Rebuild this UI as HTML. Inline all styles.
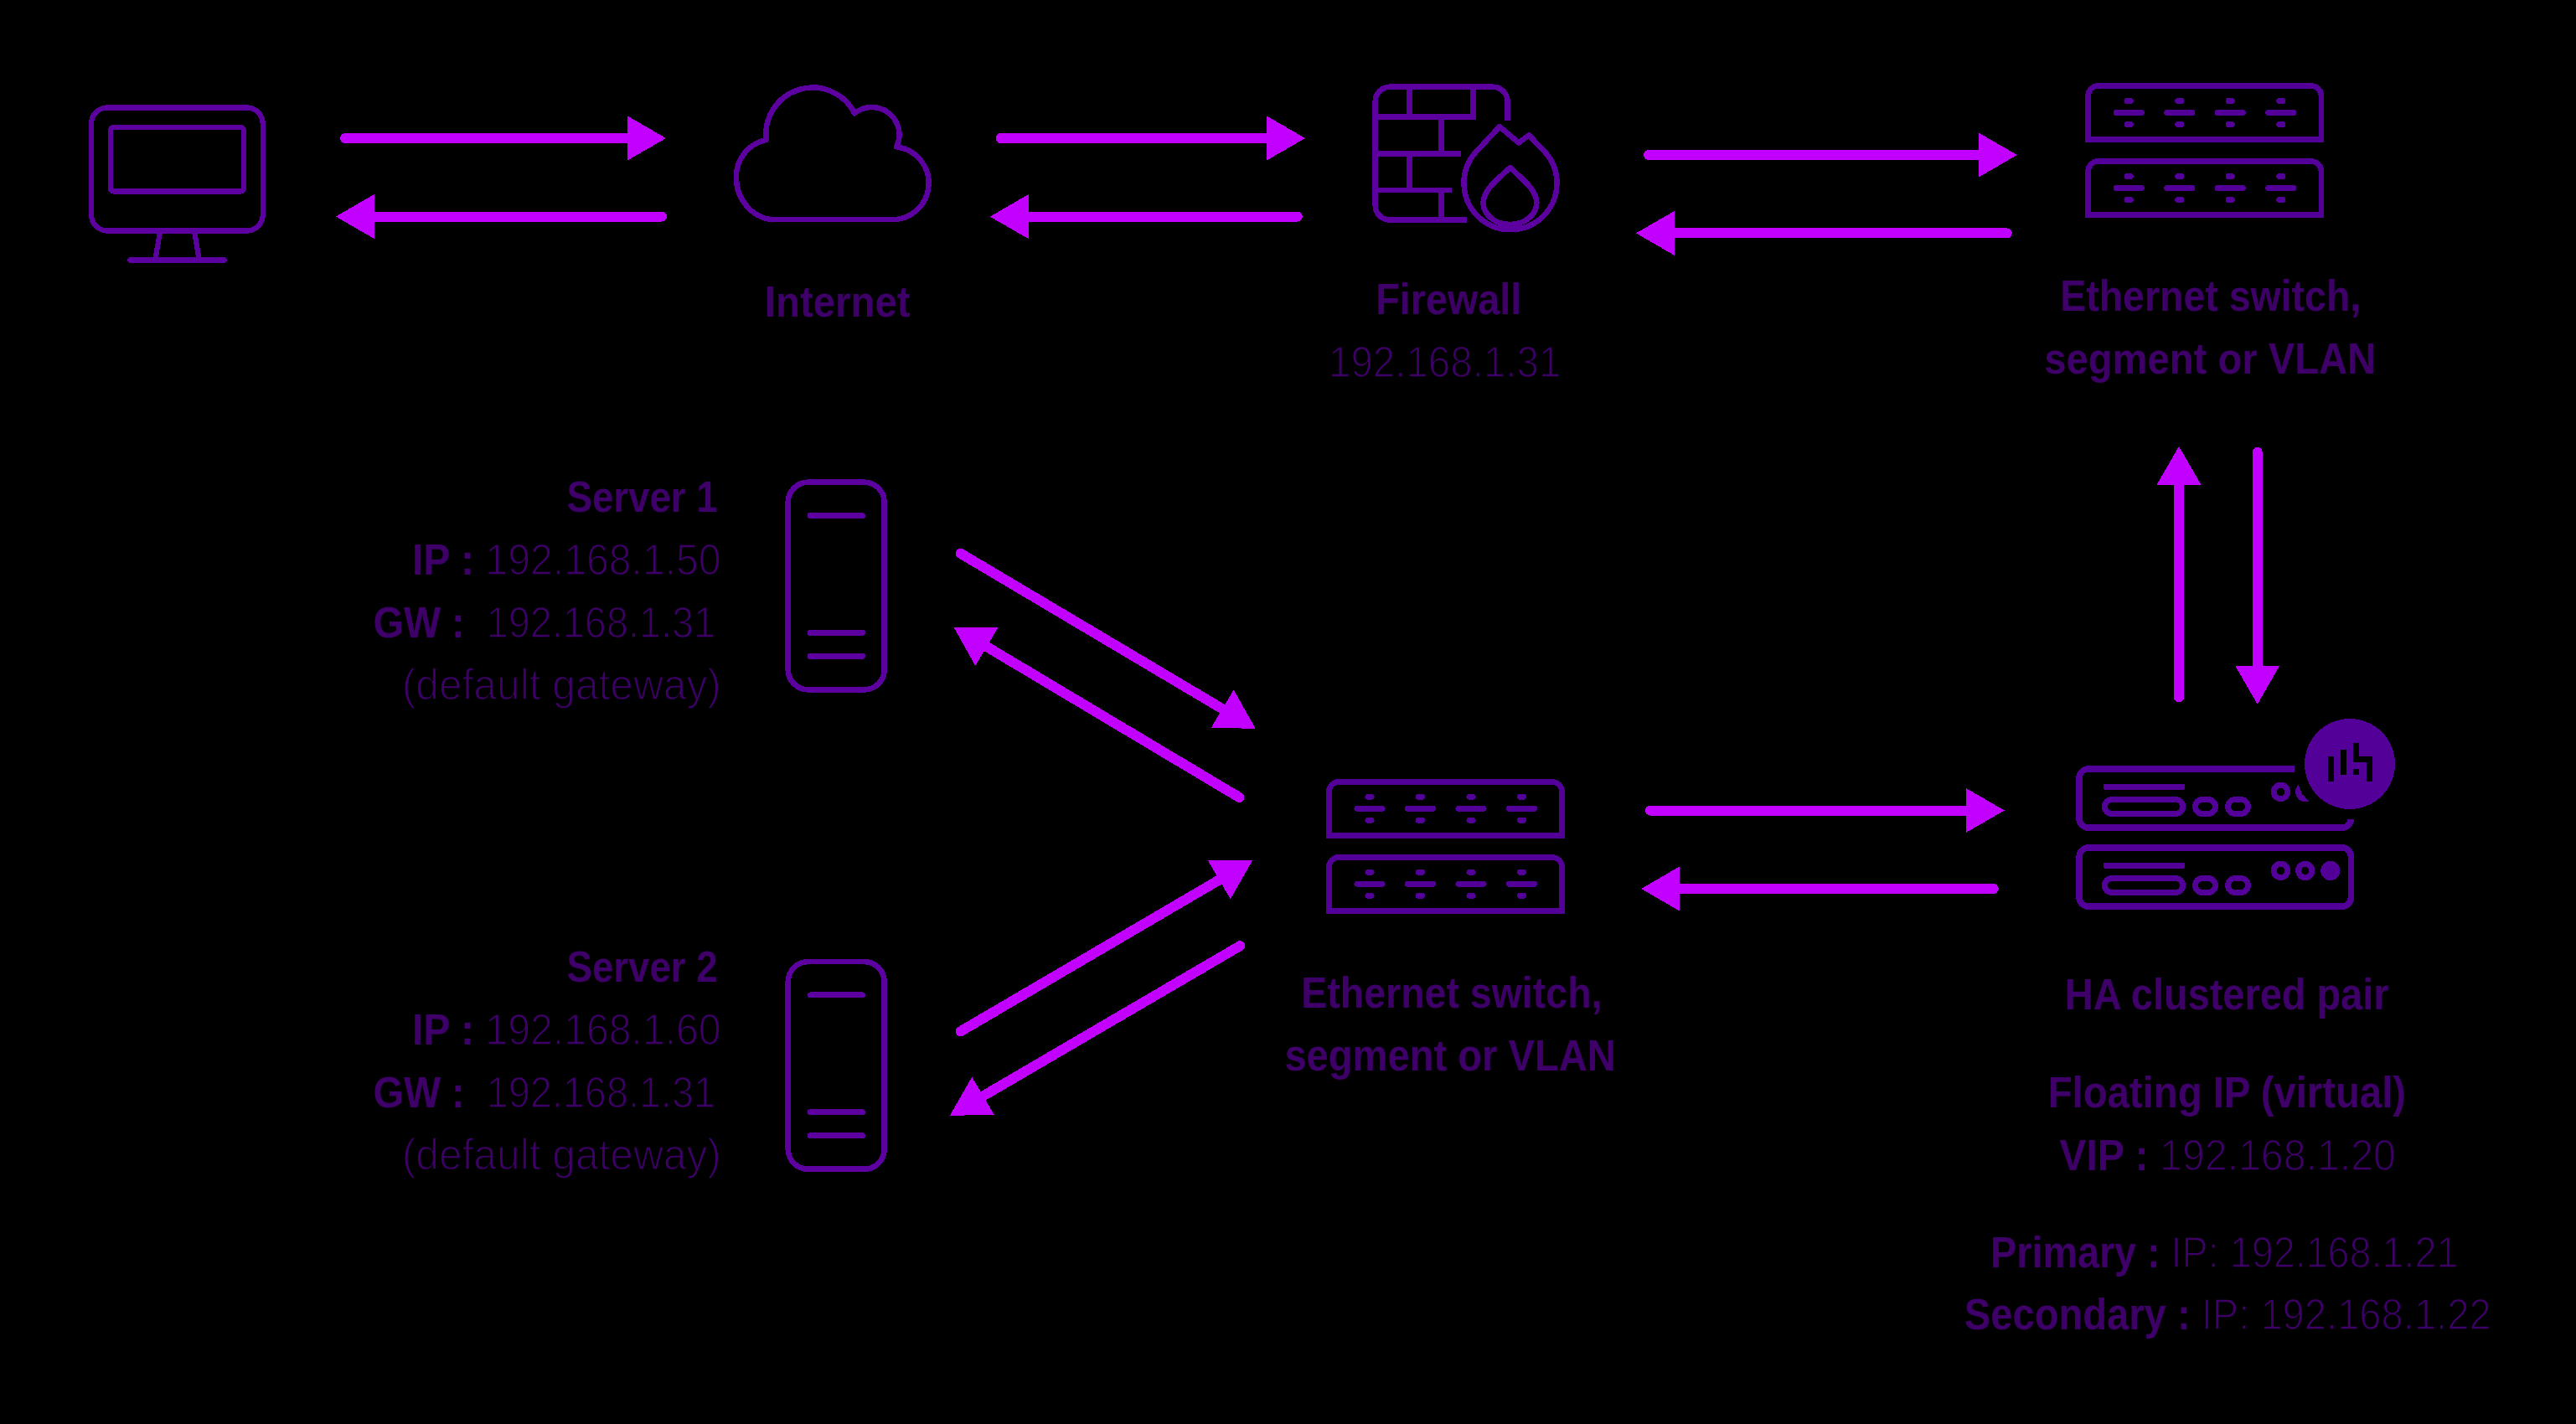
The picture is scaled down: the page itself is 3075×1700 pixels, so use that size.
<!DOCTYPE html>
<html><head><meta charset="utf-8"><style>
html,body{margin:0;padding:0;background:#000;width:3075px;height:1700px;overflow:hidden}
svg{display:block} .cr *{shape-rendering:crispEdges}
</style></head><body>
<svg width="3075" height="1700" viewBox="0 0 3075 1700">
<rect width="3075" height="1700" fill="#000"/>
<g class="cr"><line x1="412.0" y1="165.0" x2="751.1" y2="165.0" stroke="#c200ff" stroke-width="12" stroke-linecap="round"/>
<polygon points="795.0,165.0 749.1,191.5 749.1,138.5" fill="#c200ff"/>
<line x1="790.0" y1="258.5" x2="444.7" y2="258.5" stroke="#c200ff" stroke-width="12" stroke-linecap="round"/>
<polygon points="400.8,258.5 446.7,232.0 446.7,285.0" fill="#c200ff"/>
<line x1="1194.8" y1="165.0" x2="1514.1" y2="165.0" stroke="#c200ff" stroke-width="12" stroke-linecap="round"/>
<polygon points="1558.0,165.0 1512.1,191.5 1512.1,138.5" fill="#c200ff"/>
<line x1="1548.8" y1="258.6" x2="1225.6" y2="258.6" stroke="#c200ff" stroke-width="12" stroke-linecap="round"/>
<polygon points="1181.7,258.6 1227.6,232.1 1227.6,285.1" fill="#c200ff"/>
<line x1="1968.0" y1="185.0" x2="2364.0" y2="185.0" stroke="#c200ff" stroke-width="12" stroke-linecap="round"/>
<polygon points="2407.9,185.0 2362.0,211.5 2362.0,158.5" fill="#c200ff"/>
<line x1="2395.7" y1="278.4" x2="1996.8" y2="278.4" stroke="#c200ff" stroke-width="12" stroke-linecap="round"/>
<polygon points="1952.9,278.4 1998.8,251.9 1998.8,304.9" fill="#c200ff"/>
<line x1="1969.9" y1="967.5" x2="2348.9" y2="967.5" stroke="#c200ff" stroke-width="12" stroke-linecap="round"/>
<polygon points="2392.8,967.5 2346.9,994.0 2346.9,941.0" fill="#c200ff"/>
<line x1="2379.7" y1="1061.0" x2="2002.9" y2="1061.0" stroke="#c200ff" stroke-width="12" stroke-linecap="round"/>
<polygon points="1959.0,1061.0 2004.9,1034.5 2004.9,1087.5" fill="#c200ff"/>
<line x1="2601.0" y1="832.3" x2="2601.0" y2="576.8" stroke="#c200ff" stroke-width="12" stroke-linecap="round"/>
<polygon points="2601.0,532.9 2627.5,578.8 2574.5,578.8" fill="#c200ff"/>
<line x1="2694.7" y1="539.9" x2="2694.7" y2="796.8" stroke="#c200ff" stroke-width="12" stroke-linecap="round"/>
<polygon points="2694.7,840.7 2668.2,794.8 2721.2,794.8" fill="#c200ff"/>
<line x1="1146.6" y1="660.7" x2="1460.9" y2="847.3" stroke="#c200ff" stroke-width="12" stroke-linecap="round"/>
<polygon points="1498.6,869.7 1445.6,869.1 1472.7,823.5" fill="#c200ff"/>
<line x1="1479.4" y1="952.0" x2="1176.1" y2="771.0" stroke="#c200ff" stroke-width="12" stroke-linecap="round"/>
<polygon points="1138.4,748.5 1191.4,749.3 1164.2,794.8" fill="#c200ff"/>
<line x1="1146.6" y1="1231.3" x2="1457.1" y2="1049.4" stroke="#c200ff" stroke-width="12" stroke-linecap="round"/>
<polygon points="1495.0,1027.2 1468.8,1073.3 1442.0,1027.5" fill="#c200ff"/>
<line x1="1480.2" y1="1129.2" x2="1171.9" y2="1309.4" stroke="#c200ff" stroke-width="12" stroke-linecap="round"/>
<polygon points="1134.0,1331.6 1160.2,1285.6 1187.0,1331.3" fill="#c200ff"/>
<g fill="none" stroke="#5c00a0" stroke-width="6.2">
<rect x="109.1" y="128.4" width="204.6" height="147.2" rx="19"/>
<rect x="132.3" y="152.3" width="158.3" height="76.1" rx="2.5"/>
<line x1="190.8" y1="278" x2="185.8" y2="307.5"/>
<line x1="232.4" y1="278" x2="237.2" y2="307.5"/>
<line x1="155.5" y1="310.6" x2="267.5" y2="310.6" stroke-width="6.6" stroke-linecap="round"/>
</g>
<path fill="none" stroke="#5c00a0" stroke-width="6.5" stroke-linejoin="round" d="M925 262.2 H1065.1 A43.6 43.6 0 0 0 1070.08 175.29 A32.8 32.8 0 0 0 1020.11 135.23 A55.9 55.9 0 0 0 914.68 166.93 A45 45 0 0 0 878.8 211 C878.8 239.2 899.6 262.2 925 262.2 Z"/>
<g fill="none" stroke="#5c00a0" stroke-width="6.6">
<path d="M1799.5 143.5 V121 A17.25 17.25 0 0 0 1782.25 103.75 H1659 A17.25 17.25 0 0 0 1641.7 121 V245.25 A17.25 17.25 0 0 0 1659 262.5 H1750.7"/>
<path d="M1641.7 139.5 H1761.6 M1641.7 183.5 H1744.4 M1641.7 227 H1733.4"/>
<path d="M1682.5 103.75 V139.5 M1758.2 103.75 V139.5 M1720.5 139.5 V183.5 M1682.5 183.5 V227 M1720.5 227 V262.5"/>
<path stroke-linejoin="round" d="M1790 151.2 L1812.9 170.5 L1825.1 161.4 L1843.22 180.46 A55.5 55.5 0 1 1 1762.37 180.89 Z"/>
<path stroke-linejoin="round" d="M1802.7 200.1 C1790 212 1770.6 226 1770.6 242 A31.85 26 0 0 0 1834.3 242 C1834.3 226 1815 212 1802.7 200.1 Z"/>
</g>
<path fill="none" stroke="#520098" stroke-width="6.7" d="M2492.65 166.45 V114.55 A12 12 0 0 1 2504.65 102.55 H2758.95 A12 12 0 0 1 2770.95 114.55 V166.45 Z"/>
<path stroke="#520098" stroke-width="6.7" stroke-linecap="round" d="M2526.1 134.5 H2556.5 M2539.1 120.5 H2543.5 M2539.1 148.5 H2543.5"/>
<path stroke="#520098" stroke-width="6.7" stroke-linecap="round" d="M2586.5 134.5 H2616.9 M2599.5 120.5 H2603.9 M2599.5 148.5 H2603.9"/>
<path stroke="#520098" stroke-width="6.7" stroke-linecap="round" d="M2647.1 134.5 H2677.5 M2660.1 120.5 H2664.5 M2660.1 148.5 H2664.5"/>
<path stroke="#520098" stroke-width="6.7" stroke-linecap="round" d="M2707.6 134.5 H2738.0 M2720.6 120.5 H2725.0 M2720.6 148.5 H2725.0"/>
<path fill="none" stroke="#520098" stroke-width="6.7" d="M2492.65 256.45 V204.55 A12 12 0 0 1 2504.65 192.55 H2758.95 A12 12 0 0 1 2770.95 204.55 V256.45 Z"/>
<path stroke="#520098" stroke-width="6.7" stroke-linecap="round" d="M2526.1 224.5 H2556.5 M2539.1 210.5 H2543.5 M2539.1 238.5 H2543.5"/>
<path stroke="#520098" stroke-width="6.7" stroke-linecap="round" d="M2586.5 224.5 H2616.9 M2599.5 210.5 H2603.9 M2599.5 238.5 H2603.9"/>
<path stroke="#520098" stroke-width="6.7" stroke-linecap="round" d="M2647.1 224.5 H2677.5 M2660.1 210.5 H2664.5 M2660.1 238.5 H2664.5"/>
<path stroke="#520098" stroke-width="6.7" stroke-linecap="round" d="M2707.6 224.5 H2738.0 M2720.6 210.5 H2725.0 M2720.6 238.5 H2725.0"/>
<path fill="none" stroke="#520098" stroke-width="6.7" d="M1586.35 997.25 V945.35 A12 12 0 0 1 1598.35 933.35 H1852.65 A12 12 0 0 1 1864.65 945.35 V997.25 Z"/>
<path stroke="#520098" stroke-width="6.7" stroke-linecap="round" d="M1619.8 965.3 H1650.2 M1632.8 951.3 H1637.2 M1632.8 979.3 H1637.2"/>
<path stroke="#520098" stroke-width="6.7" stroke-linecap="round" d="M1680.2 965.3 H1710.6 M1693.2 951.3 H1697.6 M1693.2 979.3 H1697.6"/>
<path stroke="#520098" stroke-width="6.7" stroke-linecap="round" d="M1740.8 965.3 H1771.2 M1753.8 951.3 H1758.2 M1753.8 979.3 H1758.2"/>
<path stroke="#520098" stroke-width="6.7" stroke-linecap="round" d="M1801.3 965.3 H1831.7 M1814.3 951.3 H1818.7 M1814.3 979.3 H1818.7"/>
<path fill="none" stroke="#520098" stroke-width="6.7" d="M1586.35 1087.25 V1035.35 A12 12 0 0 1 1598.35 1023.35 H1852.65 A12 12 0 0 1 1864.65 1035.35 V1087.25 Z"/>
<path stroke="#520098" stroke-width="6.7" stroke-linecap="round" d="M1619.8 1055.3 H1650.2 M1632.8 1041.3 H1637.2 M1632.8 1069.3 H1637.2"/>
<path stroke="#520098" stroke-width="6.7" stroke-linecap="round" d="M1680.2 1055.3 H1710.6 M1693.2 1041.3 H1697.6 M1693.2 1069.3 H1697.6"/>
<path stroke="#520098" stroke-width="6.7" stroke-linecap="round" d="M1740.8 1055.3 H1771.2 M1753.8 1041.3 H1758.2 M1753.8 1069.3 H1758.2"/>
<path stroke="#520098" stroke-width="6.7" stroke-linecap="round" d="M1801.3 1055.3 H1831.7 M1814.3 1041.3 H1818.7 M1814.3 1069.3 H1818.7"/>
<rect x="940.7" y="575.7" width="114.9" height="247.7" rx="24" fill="none" stroke="#5c00a0" stroke-width="6.6"/>
<line x1="967.3" x2="1029.5" y1="615.5" y2="615.5" stroke="#5c00a0" stroke-width="7" stroke-linecap="round"/>
<line x1="967.3" x2="1029.5" y1="755.4" y2="755.4" stroke="#5c00a0" stroke-width="7" stroke-linecap="round"/>
<line x1="967.3" x2="1029.5" y1="783.4" y2="783.4" stroke="#5c00a0" stroke-width="7" stroke-linecap="round"/>
<rect x="940.7" y="1148.1" width="114.9" height="247.7" rx="24" fill="none" stroke="#5c00a0" stroke-width="6.6"/>
<line x1="967.3" x2="1029.5" y1="1187.9" y2="1187.9" stroke="#5c00a0" stroke-width="7" stroke-linecap="round"/>
<line x1="967.3" x2="1029.5" y1="1327.8" y2="1327.8" stroke="#5c00a0" stroke-width="7" stroke-linecap="round"/>
<line x1="967.3" x2="1029.5" y1="1355.8" y2="1355.8" stroke="#5c00a0" stroke-width="7" stroke-linecap="round"/>
<g>
<rect x="2482.05" y="917.90" width="324.4" height="70.30" rx="11" fill="none" stroke="#520098" stroke-width="7.6"/>
<rect x="2511" y="935.8" width="97" height="7" rx="2" fill="#520098"/>
<rect x="2512.4" y="954.5" width="93.2" height="17" rx="8.5" fill="none" stroke="#520098" stroke-width="7"/>
<rect x="2620.50" y="954.5" width="23.9" height="17" rx="8.5" fill="none" stroke="#520098" stroke-width="7"/>
<rect x="2659.55" y="954.5" width="23.9" height="17" rx="8.5" fill="none" stroke="#520098" stroke-width="7"/>
<circle cx="2722.5" cy="945.45" r="8.2" fill="none" stroke="#520098" stroke-width="7"/>
<circle cx="2751.8" cy="945.45" r="8.2" fill="none" stroke="#520098" stroke-width="7"/>
<rect x="2482.05" y="1011.90" width="324.4" height="70.30" rx="11" fill="none" stroke="#520098" stroke-width="7.6"/>
<rect x="2511" y="1029.8" width="97" height="7" rx="2" fill="#520098"/>
<rect x="2512.4" y="1048.5" width="93.2" height="17" rx="8.5" fill="none" stroke="#520098" stroke-width="7"/>
<rect x="2620.50" y="1048.5" width="23.9" height="17" rx="8.5" fill="none" stroke="#520098" stroke-width="7"/>
<rect x="2659.55" y="1048.5" width="23.9" height="17" rx="8.5" fill="none" stroke="#520098" stroke-width="7"/>
<circle cx="2722.5" cy="1039.45" r="8.2" fill="none" stroke="#520098" stroke-width="7"/>
<circle cx="2751.8" cy="1039.45" r="8.2" fill="none" stroke="#520098" stroke-width="7"/>
<circle cx="2781.9" cy="1039.45" r="11.6" fill="#520098"/>
<circle cx="2805" cy="912" r="66.5" fill="#000"/>
<circle cx="2805" cy="912" r="54" fill="#520098"/>
<rect x="2779" y="903" width="7" height="29.8" fill="#000"/>
<rect x="2794" y="895" width="7" height="29.9" fill="#000"/>
<rect x="2809" y="887" width="7" height="23.0" fill="#000"/>
<rect x="2809" y="903" width="23" height="7.0" fill="#000"/>
<rect x="2825" y="903" width="7" height="29.8" fill="#000"/>
<rect x="2809" y="918" width="7" height="6.9" fill="#000"/>
</g>
<g fill="#3e0068" font-family="&quot;Liberation Sans&quot;, sans-serif">
<text transform="translate(999.72 377.8) scale(0.9200 1)" text-anchor="middle" font-size="51.5"><tspan font-weight="bold">Internet</tspan></text>
<text transform="translate(1729.25 374.8) scale(0.9081 1)" text-anchor="middle" font-size="51.5"><tspan font-weight="bold">Firewall</tspan></text>
<text transform="translate(1724.68 450) scale(0.9225 1)" text-anchor="middle" font-size="51.5"><tspan font-weight="normal" stroke="#000" stroke-width="1.5">192.168.1.31</tspan></text>
<text transform="translate(2638.68 370.9) scale(0.9028 1)" text-anchor="middle" font-size="51.5"><tspan font-weight="bold">Ethernet switch,</tspan></text>
<text transform="translate(2638.18 445.9) scale(0.9166 1)" text-anchor="middle" font-size="51.5"><tspan font-weight="bold">segment or VLAN</tspan></text>
<text transform="translate(856.69 610.7) scale(0.8866 1)" text-anchor="end" font-size="51.5"><tspan font-weight="bold">Server 1</tspan></text>
<text transform="translate(860.67 686.0) scale(0.9357 1)" text-anchor="end" font-size="51.5"><tspan font-weight="bold">IP :</tspan><tspan font-weight="normal" stroke="#000" stroke-width="1.5"> 192.168.1.50</tspan></text>
<text transform="translate(854.02 760.7) scale(0.9090 1)" text-anchor="end" font-size="51.5"><tspan font-weight="bold">GW :</tspan><tspan font-weight="normal" stroke="#000" stroke-width="1.5">&#160; 192.168.1.31</tspan></text>
<text transform="translate(860.90 835.0) scale(0.9651 1)" text-anchor="end" font-size="51.5"><tspan font-weight="normal" stroke="#000" stroke-width="1.5">(default gateway)</tspan></text>
<text transform="translate(856.58 1172) scale(0.8860 1)" text-anchor="end" font-size="51.5"><tspan font-weight="bold">Server 2</tspan></text>
<text transform="translate(860.67 1247.3) scale(0.9357 1)" text-anchor="end" font-size="51.5"><tspan font-weight="bold">IP :</tspan><tspan font-weight="normal" stroke="#000" stroke-width="1.5"> 192.168.1.60</tspan></text>
<text transform="translate(854.02 1322.0) scale(0.9090 1)" text-anchor="end" font-size="51.5"><tspan font-weight="bold">GW :</tspan><tspan font-weight="normal" stroke="#000" stroke-width="1.5">&#160; 192.168.1.31</tspan></text>
<text transform="translate(860.90 1396.3) scale(0.9651 1)" text-anchor="end" font-size="51.5"><tspan font-weight="normal" stroke="#000" stroke-width="1.5">(default gateway)</tspan></text>
<text transform="translate(1732.85 1202.9) scale(0.9033 1)" text-anchor="middle" font-size="51.5"><tspan font-weight="bold">Ethernet switch,</tspan></text>
<text transform="translate(1731.11 1277.5) scale(0.9152 1)" text-anchor="middle" font-size="51.5"><tspan font-weight="bold">segment or VLAN</tspan></text>
<text transform="translate(2658.13 1204.9) scale(0.9110 1)" text-anchor="middle" font-size="51.5"><tspan font-weight="bold">HA clustered pair</tspan></text>
<text transform="translate(2658.34 1322) scale(0.9185 1)" text-anchor="middle" font-size="51.5"><tspan font-weight="bold">Floating IP (virtual)</tspan></text>
<text transform="translate(2659.04 1396.8) scale(0.9376 1)" text-anchor="middle" font-size="51.5"><tspan font-weight="bold">VIP :</tspan><tspan font-weight="normal" stroke="#000" stroke-width="1.5"> 192.168.1.20</tspan></text>
<text transform="translate(2655.29 1512.8) scale(0.9075 1)" text-anchor="middle" font-size="51.5"><tspan font-weight="bold">Primary :</tspan><tspan font-weight="normal" stroke="#000" stroke-width="1.5"> IP: 192.168.1.21</tspan></text>
<text transform="translate(2659.20 1587.3) scale(0.9154 1)" text-anchor="middle" font-size="51.5"><tspan font-weight="bold">Secondary :</tspan><tspan font-weight="normal" stroke="#000" stroke-width="1.5"> IP: 192.168.1.22</tspan></text>
</g></g>
</svg>
</body></html>
